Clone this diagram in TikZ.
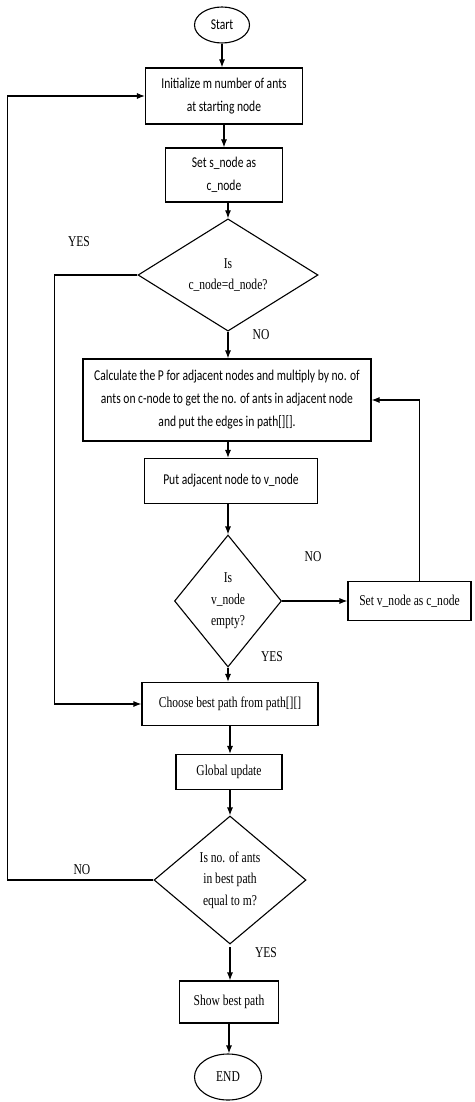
\documentclass[tikz,border=0pt]{standalone}
\usepackage{fontspec}
\setmainfont{Liberation Serif}[FakeStretch=0.77]
\newfontfamily\calfont{Carlito}[FakeStretch=0.77]
\usetikzlibrary{arrows.meta,shapes.geometric}

\begin{document}
\begin{tikzpicture}[x=1pt,y=-1pt,line width=1.1pt,>={Latex[length=8pt,width=6pt]},
    sans/.style={font=\calfont\fontsize{15}{23}\selectfont},
    serif/.style={font=\fontsize{15}{21.5}\selectfont},
    box/.style={draw,rectangle,align=center,inner sep=0pt},
    decision/.style={draw,diamond,align=center,inner sep=0pt,serif},
    terminal/.style={draw,ellipse,align=center,inner sep=0pt}]
    \useasboundingbox (0,0) rectangle (474,1102);
    % main column
    \node[terminal,sans,minimum width=55pt,minimum height=36pt] (start) at (222,25) {Start};
    \node[box,sans,minimum width=157pt,minimum height=56pt] (init) at (224,96) {Initialize m number of ants\\at starting node};
    \node[box,sans,minimum width=117pt,minimum height=54pt] (sets) at (224,175) {Set s\_node as\\c\_node};
    \node[decision,minimum width=180pt,minimum height=101pt] (isdest) at (228,275) {Is\\c\_node=d\_node?};
    \node[box,sans,minimum width=288pt,minimum height=82pt] (calc) at (227,400) {Calculate the P for adjacent nodes and multiply by no. of\\ants on c-node to get the no. of ants in adjacent node\\and put the edges in path[][].};
    \node[box,sans,minimum width=173pt,minimum height=45pt] (put) at (231,481) {Put adjacent node to v\_node};
    \node[decision,minimum width=107pt,minimum height=132pt] (isempty) at (228,601) {Is\\v\_node\\empty?};
    \node[box,serif,minimum width=123pt,minimum height=39pt] (setv) at (409.5,601) {Set v\_node as c\_node};
    \node[box,serif,minimum width=176pt,minimum height=43pt] (choose) at (230,704) {Choose best path from path[][]};
    \node[box,serif,minimum width=106pt,minimum height=35pt] (global) at (229,772) {Global update};
    \node[decision,minimum width=152pt,minimum height=128pt] (isall) at (230,880) {Is no. of ants\\in best path\\equal to m?};
    \node[box,serif,minimum width=99pt,minimum height=42pt] (show) at (229,1002) {Show best path};
    \node[terminal,serif,minimum width=67pt,minimum height=46pt] (end) at (228,1077) {END};
    % labels
    \node[serif] (yesdest) at (79,242) {YES};
    \node[serif] (nodest) at (261,335) {NO};
    \node[serif] (noempty) at (313,557) {NO};
    \node[serif] (yesempty) at (272,657) {YES};
    \node[serif] (noall) at (82,870) {NO};
    \node[serif] (yesall) at (266,953) {YES};
    % arrows
    \draw[->] (start) -- (start |- init.north);
    \draw[->] (init) -- (init |- sets.north);
    \draw[->] (isdest.north |- sets.south) -- (isdest.north);
    \draw[->] (isdest) -- (isdest |- calc.north);
    \draw[->] (isdest |- calc.south) -- (isdest |- put.north);
    \draw[->] (isempty.north |- put.south) -- (isempty.north);
    \draw[->] (isempty.east) -- (setv.west);
    \draw[->] ([xshift=10pt]setv.north) |- (calc.east);
    \draw[->] (isempty) -- (isempty |- choose.north);
    \draw[->] (isdest.west) -- ++(-83,0) |- (choose.west);
    \draw[->] (choose) -- (choose |- global.north);
    \draw[->] (isall.north |- global.south) -- (isall.north);
    \draw[->] (isall.west) -- ++(-146,0) |- (init.west);
    \draw[->] (show.north -| isall) ++(0,-33) -- (show.north -| isall);
    \draw[->] (show) -- (show |- end.north);
\end{tikzpicture}
\end{document}
